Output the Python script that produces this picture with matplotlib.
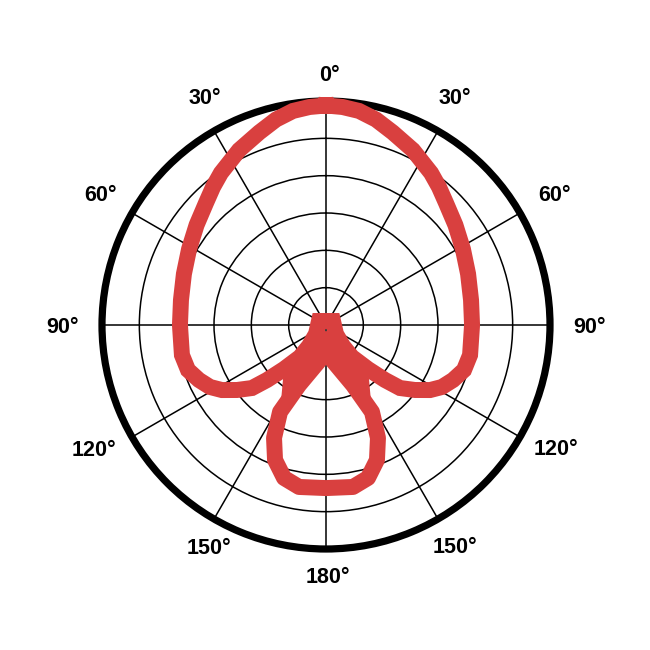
import numpy as np
import matplotlib
matplotlib.use('Agg')
import matplotlib.pyplot as plt

# ---------------------------------------------------------------------------
# Pattern data (right half; the plot is symmetric)
# angle in degrees clockwise from the front, radius relative to outer ring
# ---------------------------------------------------------------------------
front_theta = [0.0, 4.33, 8.77, 13.68, 19.11, 26.43, 34.64, 39.31, 44.53, 52.33,
               60.98, 70.24, 80.22, 90.0, 101.77, 108.06, 113.41, 118.13,
               122.0, 126.14, 130.41, 132.99, 136.33, 140.91, 141.0, 131.99,
               60.26]
front_r = [0.980, 0.976, 0.967, 0.944, 0.910, 0.872, 0.825, 0.796, 0.764, 0.730,
           0.699, 0.674, 0.657, 0.652, 0.657, 0.648, 0.618, 0.587,
           0.548, 0.492, 0.434, 0.360, 0.272, 0.184, 0.121, 0.060,
           0.036]

rear_theta = [180.0, 169.0, 155.77, 152.13, 155.29, 159.31, 164.65, 170.54, 180.0]
rear_r = [0.067, 0.164, 0.294, 0.439, 0.555, 0.644, 0.708, 0.733, 0.728]

tick_angles = [0, 30, 60, 90, 120, 150, 180, 210, 240, 270, 300, 330]
tick_labels = ['0°', '30°', '60°', '90°', '120°', '150°', '180°',
               '150°', '120°', '90°', '60°', '30°']
# where the angle labels sit (degrees, radius)
label_theta = [0.9, 29.6, 60.4, 90.5, 118.5, 150.0, 179.5,
               207.6, 241.5, 269.5, 299.9, 331.9]
label_r = [1.112, 1.163, 1.173, 1.175, 1.168, 1.148, 1.128,
           1.124, 1.178, 1.175, 1.163, 1.148]

ring_r = [1/6, 2/6, 3/6, 4/6, 5/6]

RED = '#d9403f'
LW = 11.5


def mirrored(theta, r):
    """Close a right-half trace with its mirror image on the left side."""
    t = np.deg2rad(np.asarray(theta))
    rr = np.asarray(r)
    return (np.concatenate([t, -t[::-1]]),
            np.concatenate([rr, rr[::-1]]))


fig = plt.figure(figsize=(6.5, 6.5), dpi=100)
ax = fig.add_axes([102 / 650, 101 / 650, 448 / 650, 448 / 650], projection='polar')
ax.set_theta_zero_location('N')
ax.set_theta_direction(-1)
ax.set_ylim(0, 1)

ax.set_xticks(np.deg2rad(tick_angles))
ax.set_xticklabels([])
ax.set_yticks(ring_r)
ax.set_yticklabels([])
ax.grid(True, color='black', linewidth=1.1)
ax.spines['polar'].set_linewidth(5.2)
ax.spines['polar'].set_color('black')

# front lobe and rear lobe
t, r = mirrored(front_theta, front_r)
ax.plot(t, r, color=RED, linewidth=LW, solid_joinstyle='miter',
        zorder=3, clip_on=False)
t, r = mirrored(rear_theta, rear_r)
ax.plot(t, r, color=RED, linewidth=LW, solid_joinstyle='round',
        zorder=3, clip_on=False)

# solid web where the lobes meet near the centre
web_t = np.deg2rad(front_theta[-5:] + rear_theta[:4])
web_r = front_r[-5:] + rear_r[:4]
for sign in (1, -1):
    ax.fill(sign * web_t, web_r, color=RED, linewidth=0, zorder=3, clip_on=False)

for a, s, lr in zip(label_theta, tick_labels, label_r):
    ax.text(np.deg2rad(a), lr, s, ha='center', va='center',
            fontsize=15.5, family='Liberation Sans', fontweight='bold')

fig.savefig('out.png', dpi=100, facecolor='white')
